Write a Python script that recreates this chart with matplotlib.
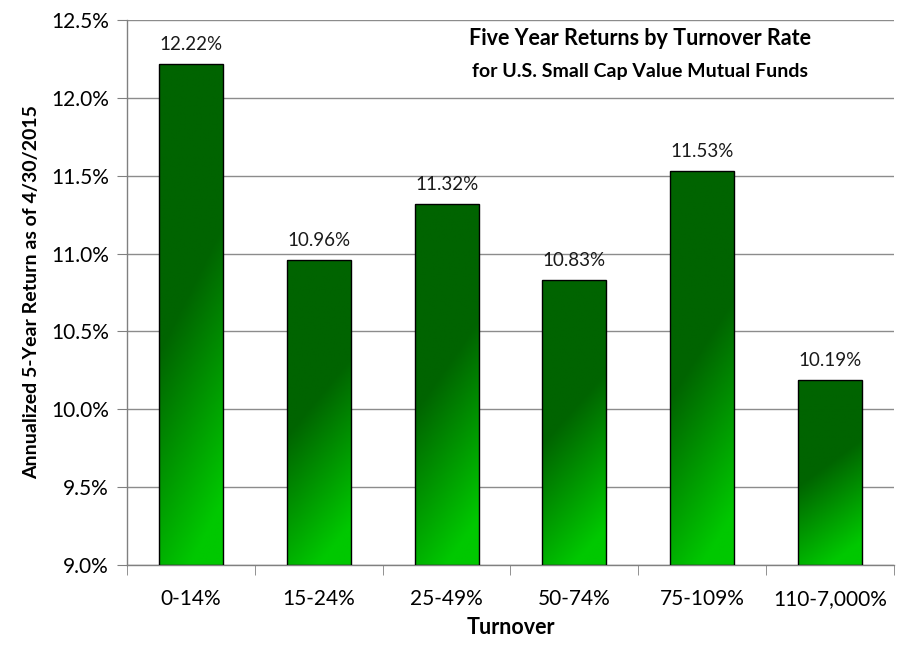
import numpy as np
import matplotlib
matplotlib.use('Agg')
import matplotlib.pyplot as plt
from matplotlib.ticker import FuncFormatter, MultipleLocator
from matplotlib.colors import LinearSegmentedColormap

# Dati
categorie = ['0-14%', '15-24%', '25-49%', '50-74%', '75-109%', '110-7,000%']
rendimenti = [12.22, 10.96, 11.32, 10.83, 11.53, 10.19]
etichette = ['12.22%', '10.96%', '11.32%', '10.83%', '11.53%', '10.19%']

plt.rcParams['font.family'] = ['Lato', 'DejaVu Sans']

fig = plt.figure(figsize=(9.09, 6.6), dpi=100)
ax = fig.add_axes([0.1397, 0.1439, 0.8438, 0.8258])

ymin, ymax = 9.0, 12.5
cmap = LinearSegmentedColormap.from_list('verde', [(0.0, '#006400'), (0.45, '#006400'), (1.0, '#00c800')])

x = np.arange(len(categorie))
larghezza = 0.5
bars = ax.bar(x, [v - ymin for v in rendimenti], bottom=ymin, width=larghezza,
              facecolor='none', edgecolor='black', linewidth=1.0, zorder=3)

# Riempimento sfumato (diagonale) per ogni barra
ny, nx = 200, 60
yy, xx = np.mgrid[0:1:ny * 1j, 0:1:nx * 1j]  # yy: 0 in alto -> 1 in basso
grad = np.clip(yy + 0.25 * (xx - 0.5), 0, 1)
for bar, val in zip(bars, rendimenti):
    x0 = bar.get_x()
    img = ax.imshow(grad, cmap=cmap, vmin=0, vmax=1, aspect='auto',
                    extent=(x0, x0 + larghezza, ymin, val), origin='upper', zorder=2)
    img.set_clip_path(bar)

for xi, val, lab in zip(x, rendimenti, etichette):
    ax.text(xi, val + 0.07, lab, ha='center', va='bottom', fontsize=13.5, color='#1a1a1a', zorder=4)

ax.set_xlim(-0.5, len(categorie) - 0.5)
ax.set_ylim(ymin, ymax)
ax.yaxis.set_major_locator(MultipleLocator(0.5))
ax.yaxis.set_major_formatter(FuncFormatter(lambda v, p: f'{v:.1f}%'))
ax.set_xticks(x)
ax.set_xticklabels(categorie)
ax.set_xticks(np.arange(-0.5, len(categorie)), minor=True)
ax.tick_params(axis='x', which='major', length=0, labelsize=15, pad=17)
ax.tick_params(axis='x', which='minor', length=7, color='#808080', direction='out')
ax.tick_params(axis='y', length=7, color='#808080', labelsize=15, pad=6)

ax.grid(axis='y', color='#8c8c8c', linewidth=1.0, zorder=0)
ax.set_axisbelow(True)
for s in ['top', 'right']:
    ax.spines[s].set_visible(False)
for s in ['left', 'bottom']:
    ax.spines[s].set_color('#808080')
    ax.spines[s].set_linewidth(1.0)

ax.set_xlabel('Turnover', fontsize=15.5, fontweight='bold', labelpad=6)
ax.set_ylabel('Annualized 5-Year Return as of 4/30/2015', fontsize=14, fontweight='bold', labelpad=8)

ax.text(0.669, 0.966, 'Five Year Returns by Turnover Rate', transform=ax.transAxes,
        ha='center', va='center', fontsize=15.5, fontweight='bold')
ax.text(0.669, 0.906, 'for U.S. Small Cap Value Mutual Funds', transform=ax.transAxes,
        ha='center', va='center', fontsize=14, fontweight='bold')

fig.savefig('out.png', dpi=100)
